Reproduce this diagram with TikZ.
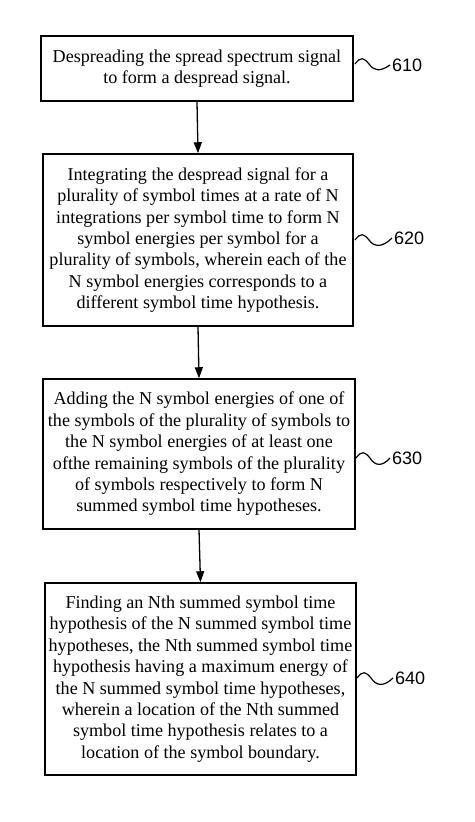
\documentclass[tikz,border=0pt]{standalone}
\usepackage{fontspec}
\setmainfont{Liberation Serif}
\newfontfamily\labelfont{Liberation Sans}
\usetikzlibrary{arrows.meta}
\begin{document}
\begin{tikzpicture}[x=1pt,y=-1pt,
  stepbox/.style={draw,line width=1.5pt,align=center,inner sep=0pt,
    font=\fontsize{18.1}{21.4}\selectfont},
  flow/.style={-{Triangle[length=11pt,width=8pt]},line width=1.3pt},
  reflabel/.style={font=\labelfont\fontsize{18}{20}\selectfont,anchor=west,inner sep=2pt},
  squig/.style={line width=1.2pt}]
\useasboundingbox (0,0) rectangle (474,822);
\node[stepbox,minimum width=312pt,minimum height=65pt] (b1) at (197,68.5)
  {Despreading the spread spectrum signal\\to form a despread signal.};
\node[stepbox,minimum width=310pt,minimum height=172pt] (b2) at (198,240)
  {Integrating the despread signal for a\\plurality of symbol times at a rate of N\\integrations per symbol time to form N\\symbol energies per symbol for a\\plurality of symbols, wherein each of the\\N symbol energies corresponds to a\\different symbol time hypothesis.};
\node[stepbox,minimum width=312pt,minimum height=150pt] (b3) at (199,454)
  {Adding the N symbol energies of one of\\the symbols of the plurality of symbols to\\the N symbol energies of at least one\\ofthe remaining symbols of the plurality\\of symbols respectively to form N\\summed symbol time hypotheses.};
\node[stepbox,minimum width=311pt,minimum height=192pt] (b4) at (200.5,679)
  {Finding an Nth summed symbol time\\hypothesis of the N summed symbol time\\hypotheses, the Nth summed symbol time\\hypothesis having a maximum energy of\\the N summed symbol time hypotheses,\\wherein a location of the Nth summed\\symbol time hypothesis relates to a\\location of the symbol boundary.};
\draw[flow] (b1.south) -- (b2.north);
\draw[flow] (b2.south) -- (b3.north);
\draw[flow] (b3.south) -- (b4.north);
\node[reflabel] (l1) at (390,65) {610};
\node[reflabel] (l2) at (392,238) {620};
\node[reflabel] (l3) at (390,458) {630};
\node[reflabel] (l4) at (393,678) {640};
\draw[squig] (355,64) .. controls (361,56) and (364,58) .. (369,64)
  .. controls (374,71) and (380,72) .. (l1.west);
\draw[squig] (355,240) .. controls (361,232) and (364,234) .. (369,240)
  .. controls (374,247) and (382,248) .. (l2.west);
\draw[squig] (356,458) .. controls (362,450) and (365,452) .. (370,458)
  .. controls (375,466) and (382,467) .. (l3.west);
\draw[squig] (357,678) .. controls (363,670) and (366,672) .. (371,678)
  .. controls (376,686) and (384,687) .. (l4.west);
\end{tikzpicture}
\end{document}
